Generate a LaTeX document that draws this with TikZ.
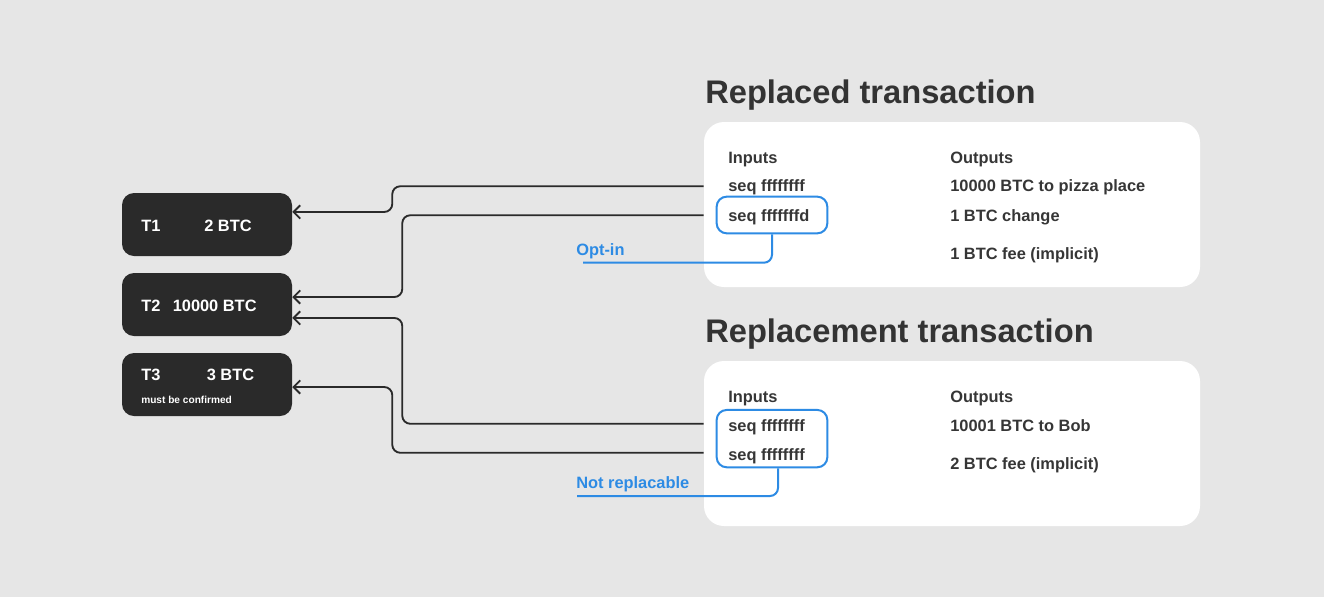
\documentclass[tikz,border=0pt]{standalone}
\usepackage{fontspec}
\setmainfont{Liberation Sans}
\usetikzlibrary{arrows.meta,positioning,calc}
\definecolor{paper}{HTML}{E6E6E6}
\definecolor{ink}{HTML}{2A2A2A}
\definecolor{txt}{HTML}{363636}
\definecolor{optblue}{HTML}{2D8BE4}
\tikzset{
  txbox/.style={fill=ink,rounded corners=9pt,minimum width=127.5pt,minimum height=47.25pt,inner sep=0pt},
  card/.style={fill=white,rounded corners=15pt,minimum width=372pt,minimum height=123.75pt,inner sep=0pt},
  lbl/.style={anchor=base west,inner sep=0pt,font=\bfseries\fontsize{12.3}{14}\selectfont,text=txt},
  boxlbl/.style={lbl,text=white},
  tiny/.style={lbl,text=white,font=\bfseries\fontsize{7.6}{9}\selectfont},
  title/.style={lbl,text=txt!95!black,font=\bfseries\fontsize{24.5}{28}\selectfont},
  bluelbl/.style={lbl,text=optblue},
  selbox/.style={draw=optblue,line width=1.5pt,rounded corners=7.5pt,minimum width=83pt,inner sep=0pt},
  optline/.style={draw=optblue,line width=1.5pt,rounded corners=6pt},
  conn/.style={draw=ink,line width=1.4pt,rounded corners=6pt,-{Straight Barb[length=5pt,width=10pt,line width=1.4pt]}},
}
\begin{document}
\begin{tikzpicture}[x=0.75pt,y=-0.75pt]
  \fill[paper] (0,0) rectangle (1324,597);
  \useasboundingbox (0,0) rectangle (1324,597);
  % transactions in the mempool
  \node[txbox] (t1) at (207,224.5) {};
  \node[txbox] (t2) at (207,304.5) {};
  \node[txbox] (t3) at (207,384.5) {};
  \node[boxlbl] at (141,231) {T1};
  \node[boxlbl] at (204,231) {2 BTC};
  \node[boxlbl] at (141,311) {T2};
  \node[boxlbl] at (172.5,311) {10000 BTC};
  \node[boxlbl] at (141,380) {T3};
  \node[boxlbl] at (206.5,380) {3 BTC};
  \node[tiny] at (141,403) {must be confirmed};
  % replaced transaction
  \node[title] at (705,103) {Replaced transaction};
  \node[card] (rpd) at (952,204.5) {};
  \node[lbl] at (728,163) {Inputs};
  \node[lbl] at (950,163) {Outputs};
  \node[lbl] (in1) at (728,191) {seq ffffffff};
  \node[lbl] (in2) at (728,221) {seq fffffffd};
  \node[lbl] at (950,191) {10000 BTC to pizza place};
  \node[lbl] at (950,221) {1 BTC change};
  \node[lbl] at (950,259) {1 BTC fee (implicit)};
  \node[selbox,minimum height=27.5pt] (optbox) at (772,215) {};
  \node[bluelbl] at (576,255) {Opt-in};
  \coordinate (optend) at (583,262.7);
  \draw[optline] (optbox.south) |- (optend);
  % replacement transaction
  \node[title] at (705,342) {Replacement transaction};
  \node[card] (rpm) at (952,443.5) {};
  \node[lbl] at (728,402) {Inputs};
  \node[lbl] at (950,402) {Outputs};
  \node[lbl] (in3) at (728,431) {seq ffffffff};
  \node[lbl] (in4) at (728,460) {seq ffffffff};
  \node[lbl] at (950,431) {10001 BTC to Bob};
  \node[lbl] at (950,469) {2 BTC fee (implicit)};
  \node[selbox,minimum height=43pt] (nrbox) at (772,438.6) {};
  \node[bluelbl] at (576,488.3) {Not replacable};
  \coordinate (nrend) at (577,496);
  \draw[optline] ([xshift=4.5pt]nrbox.south) |- (nrend);
  % spent outputs
  \draw[conn] ($(rpd.west |- in1)+(0,-0.5)$) -| ([xshift=75pt,yshift=9.4pt]t1.east) -- ([yshift=9.4pt]t1.east);
  \draw[conn] ($(rpd.west |- in2)+(0,-1.5)$) -| ([xshift=82.5pt,yshift=5.6pt]t2.east) -- ([yshift=5.6pt]t2.east);
  \draw[conn] ($(rpm.west |- in3)+(0,-3)$) -| ([xshift=82.5pt,yshift=-10.1pt]t2.east) -- ([yshift=-10.1pt]t2.east);
  \draw[conn] ($(rpm.west |- in4)+(0,-3)$) -| ([xshift=75pt,yshift=-1.9pt]t3.east) -- ([yshift=-1.9pt]t3.east);
\end{tikzpicture}
\end{document}
